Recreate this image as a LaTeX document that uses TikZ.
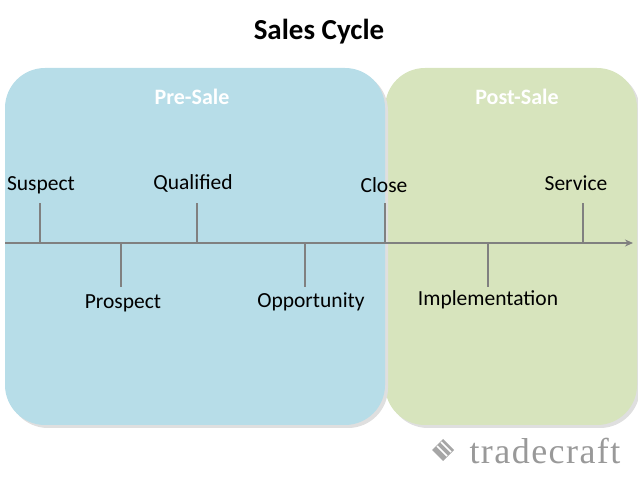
\documentclass[tikz,border=0pt]{standalone}
\usepackage{fontspec}
\setmainfont{Carlito}
\newfontfamily\logofont[LetterSpace=4]{Liberation Serif}
\usetikzlibrary{arrows.meta}
\definecolor{preblue}{RGB}{183,221,232}
\definecolor{postgreen}{RGB}{215,228,189}
\definecolor{axisgray}{RGB}{128,128,128}
\begin{document}
\begin{tikzpicture}[x=1pt,y=-1pt,
  phase/.style={rounded corners=40pt},
  tick/.style={draw=axisgray,line width=1.5pt},
  lbl/.style={font=\fontsize{21.5}{24}\selectfont,text=black},
  head/.style={font=\bfseries\fontsize{22}{25}\selectfont,text=white}]
\useasboundingbox (0,0) rectangle (638,478);
\fill[gray!25,phase] (388,71) rectangle (640,428);
\fill[postgreen,phase] (385,68) rectangle (637,425);
\fill[gray!25,phase] (8,71) rectangle (388,428);
\fill[preblue,phase] (5,68) rectangle (385,425);
\node[font=\bfseries\fontsize{29}{32}\selectfont] (title) at (319,32) {Sales Cycle};
\node[head] (pre) at (192,97) {Pre-Sale};
\node[head] (post) at (517,97) {Post-Sale};
\coordinate (a0) at (5,243);
\coordinate (a1) at (633,243);
\draw[axisgray,line width=1.5pt,-{Stealth[length=8pt,width=7pt]}] (a0) -- (a1);
\foreach \x in {40,197,385,583}{\draw[tick] (\x,243) -- (\x,203);}
\foreach \x in {121,305,488}{\draw[tick] (\x,243) -- (\x,287);}
\node[lbl] (su) at (41,185) {Suspect};
\node[lbl] (qu) at (193,183) {Qualified};
\node[lbl] (cl) at (384,185) {Close};
\node[lbl] (se) at (576,183) {Service};
\node[lbl] (pr) at (123,303) {Prospect};
\node[lbl] (op) at (311,302) {Opportunity};
\node[lbl] (im) at (488,300) {Implementation};
\fill[gray!70] (443,439) -- (454,450) -- (443,461) -- (432,450) -- cycle;
\draw[white,line width=1.5pt] (437,446) -- (447,456) (441,442) -- (451,452);
\node[text=gray!80,font=\logofont\fontsize{36}{38}\selectfont] (logo) at (545,451) {tradecraft};
\end{tikzpicture}
\end{document}
